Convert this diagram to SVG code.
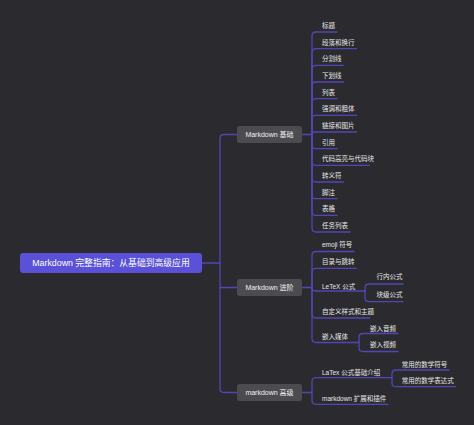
<svg xmlns="http://www.w3.org/2000/svg" width="474" height="425" viewBox="0 0 474 425">
<style>
.bg{fill:#2b2b2f}
.ln{fill:none;stroke:#5047b4;stroke-width:1.3;stroke-linecap:round}
.t{font-family:"Liberation Sans","Noto Sans CJK SC",sans-serif;font-size:6.5px;fill:#e6e6e6}
.t2{font-family:"Liberation Sans","Noto Sans CJK SC",sans-serif;font-size:7px;fill:#f0f0f0;text-anchor:middle}
.t1{font-family:"Liberation Sans","Noto Sans CJK SC",sans-serif;font-size:8.8px;fill:#ffffff;text-anchor:middle}
.n2{fill:#4b4b50}
</style>
<rect class="bg" x="0" y="0" width="474" height="425"/>
<g id="connectors">
<path class="ln" d="M202,263 H220"/>
<path class="ln" d="M237,134.5 H224 Q220,134.5 220,138.5 V388.5 Q220,392.5 224,392.5 H237"/>
<path class="ln" d="M220,287.5 H237"/>
<path class="ln" d="M302,134.5 H312"/>
<path class="ln" d="M312,134.5 V36 Q312,32 316,32 H337"/>
<path class="ln" d="M312,134.5 V52.7 Q312,48.7 316,48.7 H356.5"/>
<path class="ln" d="M312,134.5 V69.3 Q312,65.3 316,65.3 H343.5"/>
<path class="ln" d="M312,134.5 V86 Q312,82 316,82 H343.5"/>
<path class="ln" d="M312,134.5 V102.7 Q312,98.7 316,98.7 H337"/>
<path class="ln" d="M312,134.5 V119.4 Q312,115.4 316,115.4 H356.5"/>
<path class="ln" d="M312,134.5 Q312,132 315,132 H356.5"/>
<path class="ln" d="M312,134.5 V144.7 Q312,148.7 316,148.7 H337"/>
<path class="ln" d="M312,134.5 V161.4 Q312,165.4 316,165.4 H369.5"/>
<path class="ln" d="M312,134.5 V178 Q312,182 316,182 H343.5"/>
<path class="ln" d="M312,134.5 V194.7 Q312,198.7 316,198.7 H337"/>
<path class="ln" d="M312,134.5 V211.4 Q312,215.4 316,215.4 H337"/>
<path class="ln" d="M312,134.5 V228 Q312,232 316,232 H350"/>
<path class="ln" d="M302,287.5 H312"/>
<path class="ln" d="M312,287.5 V255.5 Q312,251.5 316,251.5 H354"/>
<path class="ln" d="M312,287.5 V272.3 Q312,268.3 316,268.3 H356.5"/>
<path class="ln" d="M312,287.5 Q312,291 315.5,291 H365"/>
<path class="ln" d="M312,287.5 V314 Q312,318 316,318 H369.5"/>
<path class="ln" d="M312,287.5 V338.5 Q312,342.5 316,342.5 H359"/>
<path class="ln" d="M365,291 V288 Q365,284 369,284 H403"/>
<path class="ln" d="M365,291 V297.7 Q365,301.7 369,301.7 H403"/>
<path class="ln" d="M359,342.5 V337.5 Q359,333.5 363,333.5 H398"/>
<path class="ln" d="M359,342.5 V347.5 Q359,351.5 363,351.5 H398"/>
<path class="ln" d="M302,392.5 H312"/>
<path class="ln" d="M312,392.5 V381.7 Q312,377.7 316,377.7 H392"/>
<path class="ln" d="M312,392.5 V400.3 Q312,404.3 316,404.3 H388"/>
<path class="ln" d="M392,377.7 V374 Q392,370 396,370 H449"/>
<path class="ln" d="M392,377.7 V382.7 Q392,386.7 396,386.7 H455.7"/>
</g>
<g id="root">
<rect x="20" y="253" width="182" height="20" rx="3" fill="#5a51d8"/>
<text class="t1" x="111" y="266.2">Markdown 完整指南：从基础到高级应用</text>
</g>
<g id="basic">
<rect class="n2" x="237" y="126" width="65" height="17" rx="2.5"/>
<text class="t2" x="269.5" y="137">Markdown 基础</text>
</g>
<g id="advanced">
<rect class="n2" x="237" y="279" width="65" height="17" rx="2.5"/>
<text class="t2" x="269.5" y="290">Markdown 进阶</text>
</g>
<g id="expert">
<rect class="n2" x="237" y="384" width="65" height="17" rx="2.5"/>
<text class="t2" x="269.5" y="395">markdown 高级</text>
</g>
<g id="basic-children">
<text class="t" x="322" y="28">标题</text>
<text class="t" x="322" y="44.7">段落和换行</text>
<text class="t" x="322" y="61.3">分割线</text>
<text class="t" x="322" y="78">下划线</text>
<text class="t" x="322" y="94.7">列表</text>
<text class="t" x="322" y="111.4">强调和粗体</text>
<text class="t" x="322" y="128">链接和图片</text>
<text class="t" x="322" y="144.7">引用</text>
<text class="t" x="322" y="161.4">代码高亮与代码块</text>
<text class="t" x="322" y="178">转义符</text>
<text class="t" x="322" y="194.7">脚注</text>
<text class="t" x="322" y="211.4">表格</text>
<text class="t" x="322" y="228">任务列表</text>
</g>
<g id="advanced-children">
<text class="t" x="322" y="247.3">emoji 符号</text>
<text class="t" x="322" y="264">目录与跳转</text>
<text class="t" x="322" y="289">LeTeX 公式</text>
<text class="t" x="322" y="314">自定义样式和主题</text>
<text class="t" x="322" y="339">嵌入媒体</text>
<text class="t" x="376.5" y="279">行内公式</text>
<text class="t" x="376.5" y="297.3">块级公式</text>
<text class="t" x="370" y="330.6">嵌入音频</text>
<text class="t" x="370" y="347.3">嵌入视频</text>
</g>
<g id="expert-children">
<text class="t" x="322" y="374.6">LaTex 公式基础介绍</text>
<text class="t" x="322" y="400.6">markdown 扩展和插件</text>
<text class="t" x="401.7" y="367.3">常用的数学符号</text>
<text class="t" x="401.7" y="383">常用的数学表达式</text>
</g>
</svg>
